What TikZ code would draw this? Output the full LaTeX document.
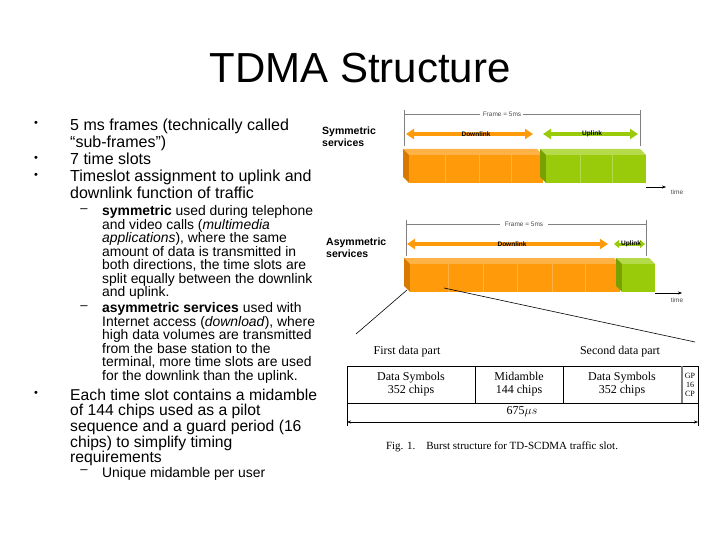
\documentclass[tikz,border=0pt]{standalone}
\usepackage{fontspec}
\setmainfont{Liberation Sans}
\newfontfamily\tms{Liberation Serif}
\usetikzlibrary{arrows.meta}
\definecolor{org}{HTML}{FF9A0A}
\definecolor{orgd}{HTML}{D97A00}
\definecolor{orgt}{HTML}{FFB347}
\definecolor{grn}{HTML}{9ACB0A}
\definecolor{grnd}{HTML}{77A000}
\definecolor{grnt}{HTML}{B5DA4A}
\begin{document}
\begin{tikzpicture}[x=1pt,y=-1pt,
  body/.style={anchor=north west,align=left,inner sep=0pt,font=\fontsize{16}{17}\selectfont},
  sub/.style={anchor=north west,align=left,inner sep=0pt,font=\fontsize{13.9}{13.5}\selectfont},
  bul/.style={inner sep=0pt,font=\fontsize{11}{12}\selectfont},
  small/.style={font=\fontsize{6.5}{7}\selectfont,inner sep=0pt},
  lbl/.style={anchor=west,align=left,inner sep=0pt,font=\bfseries\fontsize{10.5}{12}\selectfont},
  tb/.style={font=\tms\fontsize{12}{13}\selectfont,inner sep=0pt,align=center},
  dbl/.style={line width=3.5pt,{Triangle[length=8pt,width=10pt]}-{Triangle[length=8pt,width=10pt]}}]
\useasboundingbox (0,0) rectangle (720,540);
\node[font=\fontsize{42}{46}\selectfont,inner sep=0pt] (title) at (360,68) {TDMA Structure};
% bullets
\foreach \y/\n in {124/b1,159/b2,176/b3,394/b4}{\node[bul] (\n) at (36,\y) {•};}
\foreach \y/\n in {211/d1,308/d2,472/d3}{\node[bul,font=\fontsize{13}{13}\selectfont] (\n) at (84,\y) {--};}
\node[body] (t1) at (70,118.5) {5 ms frames (technically called\\``sub-frames'')\\7 time slots\\Timeslot assignment to uplink and\\downlink function of traffic};
\node[sub] (s1) at (102,205.5) {\textbf{symmetric} used during telephone\\and video calls (\textit{multimedia}\\\textit{applications}), where the same\\amount of data is transmitted in\\both directions, the time slots are\\split equally between the downlink\\and uplink.};
\node[sub] (s2) at (102,302.5) {\textbf{asymmetric services} used with\\Internet access (\textit{download}), where\\high data volumes are transmitted\\from the base station to the\\terminal, more time slots are used\\for the downlink than the uplink.};
\node[body,font=\fontsize{15.7}{15.6}\selectfont] (t4) at (70,388.7) {Each time slot contains a midamble\\of 144 chips used as a pilot\\sequence and a guard period (16\\chips) to simplify timing\\requirements};
\node[sub] (s3) at (102,467) {Unique midamble per user};
% symmetric
\node[lbl] (sl) at (322,137) {Symmetric\\services};
\draw[gray,line width=0.5pt] (404,114)--(480,114) (523,114)--(640,114);
\draw[gray] (404,110)--(404,146) (640,110)--(640,146);
\node[small,gray!60!black] (fr1) at (502,114) {Frame = 5ms};
\draw[dbl,org] (406,134)--(533,134); \draw[dbl,grn] (543,134)--(638,134);
\node[small,font=\bfseries\fontsize{6.5}{7}\selectfont] (dl1) at (476,134) {Downlink};
\node[small,font=\bfseries\fontsize{6.5}{7}\selectfont] (ul1) at (592,134) {Uplink};
\fill[orgt] (403,149)--(537,149)--(543,155)--(409,155)--cycle;
\fill[orgd] (403,149)--(409,155)--(409,183)--(403,177)--cycle;
\fill[org] (409,155) rectangle (543,183);
\fill[grnt] (540,149)--(640,149)--(646,155)--(546,155)--cycle;
\fill[grnd] (540,149)--(546,155)--(546,183)--(540,177)--cycle;
\fill[grn] (546,155) rectangle (646,183);
\draw[orgt,line width=0.7pt] (445,155)--(445,183) (479,155)--(479,183) (511,155)--(511,183);
\draw[grnt,line width=0.7pt] (580,155)--(580,183) (612,155)--(612,183);
\draw[-{Stealth[length=4pt,width=3pt]}] (646,187)--(666,187);
\node[small,gray!60!black] (tm1) at (677,192) {time};
% asymmetric
\node[lbl] (al) at (326,248) {Asymmetric\\services};
\draw[gray,line width=0.5pt] (406,224)--(500,224) (548,224)--(646,224);
\draw[gray] (406,220)--(406,256) (646,220)--(646,256);
\node[small,gray!60!black] (fr2) at (524,224) {Frame = 5ms};
\draw[dbl,org] (407,244)--(608,244); \draw[grn,line width=3pt,{Triangle[length=5pt,width=8pt]}-{Triangle[length=5pt,width=8pt]}] (614,244)--(645,244);
\node[small,font=\bfseries\fontsize{6.5}{7}\selectfont] (dl2) at (512,244) {Downlink};
\node[small,font=\bfseries\fontsize{6.5}{7}\selectfont] (ul2) at (631,244) {Uplink};
\fill[orgt] (404,258)--(614,258)--(620,264)--(410,264)--cycle;
\fill[orgd] (404,258)--(410,264)--(410,292)--(404,286)--cycle;
\fill[org] (410,264) rectangle (620,292);
\fill[grnt] (616,258)--(649,258)--(655,264)--(622,264)--cycle;
\fill[grnd] (616,258)--(622,264)--(622,292)--(616,286)--cycle;
\fill[grn] (622,264) rectangle (655,292);
\foreach \x in {448,483,517,552,585}{\draw[orgt,line width=0.7pt] (\x,264)--(\x,292);}
\draw[-{Stealth[length=4pt,width=3pt]}] (655,293)--(682,293);
\node[small,gray!60!black] (tm2) at (677,300) {time};
\coordinate (z1) at (407,290); \coordinate (z2) at (356,334);
\coordinate (z3) at (444,288); \coordinate (z4) at (695,342);
\draw[line width=0.6pt] (z1)--(z2) (z3)--(z4);
% burst
\node[tb] (fp) at (407,352) {First data part};
\node[tb] (sp) at (620,352) {Second data part};
\draw[line width=0.6pt] (347,366) rectangle (698,403);
\draw[line width=0.6pt] (475,366)--(475,403) (563,366)--(563,403);
\draw[line width=1.5pt,gray] (682,366)--(682,403);
\node[tb] (ds1) at (411,384.5) {Data Symbols\\352 chips};
\node[tb] (mid) at (519,384.5) {Midamble\\144 chips};
\node[tb] (ds2) at (622,384.5) {Data Symbols\\352 chips};
\node[tb,font=\tms\fontsize{8}{9}\selectfont] (gp) at (690,384.5) {GP\\16\\CP};
\draw[line width=0.6pt] (347,403)--(347,426) (698,403)--(698,426);
\draw[line width=0.6pt,{Stealth[length=4pt]}-{Stealth[length=4pt]}] (347,422)--(698,422);
\node[tb] (us) at (522,412) {675$\mu s$};
\node[tb,font=\tms\fontsize{11}{12}\selectfont] (cap) at (502,447) {Fig. 1.\quad Burst structure for TD-SCDMA traffic slot.};
\end{tikzpicture}
\end{document}
